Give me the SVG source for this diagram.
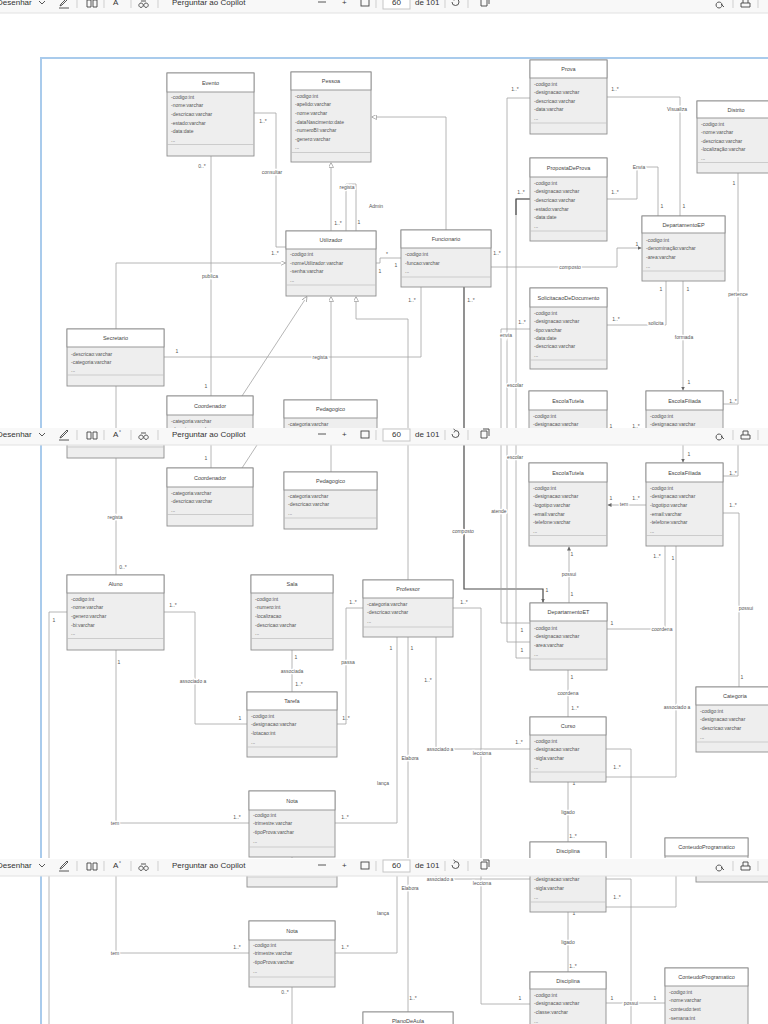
<svg xmlns="http://www.w3.org/2000/svg" xmlns:xlink="http://www.w3.org/1999/xlink" width="768" height="1024" viewBox="0 0 768 1024">
<defs>
<style>
text{font-family:"Liberation Sans",Arial,sans-serif}
.b{fill:#eeeeee;stroke:#8f8f8f;stroke-width:0.9}
.h{fill:#ffffff;stroke:#8f8f8f;stroke-width:0.9}
.d{stroke:#bdbdbd;stroke-width:0.7}
.t{font-size:5.5px;fill:#444;text-anchor:middle}
.a{font-size:5px;fill:#555}
.c path{fill:none;stroke:#a3a3a3;stroke-width:0.8}
.c path.k{stroke:#4a4a4a;stroke-width:1.2}
.l{font-size:5px;fill:#555;text-anchor:middle}
.lb{paint-order:stroke;stroke:#fff;stroke-width:2.5px}
.tb{font-size:8px;fill:#333}
.ti{fill:none;stroke:#444;stroke-width:0.9}
.sep{stroke:#cfcfcf;stroke-width:1}
.frame{stroke:#a9cbec;stroke-width:2;fill:none}
</style>
<marker id="gen" viewBox="0 0 10 10" refX="10" refY="5" markerWidth="5" markerHeight="5" markerUnits="userSpaceOnUse" orient="auto"><path d="M0,0L10,5L0,10z" fill="#fff" stroke="#888" stroke-width="1.2"/></marker>
<marker id="arr" viewBox="0 0 10 10" refX="10" refY="5" markerWidth="4" markerHeight="4" markerUnits="userSpaceOnUse" orient="auto"><path d="M0,0L10,5L0,10z" fill="#666"/></marker>
<clipPath id="c1"><rect x="0" y="13" width="768" height="415"/></clipPath>
<clipPath id="c2"><rect x="0" y="445" width="768" height="413"/></clipPath>
<clipPath id="c3"><rect x="0" y="876" width="768" height="148"/></clipPath>
<g id="tb">
<rect x="0" y="-9" width="768" height="17" fill="#f8f8f8"/>
<line x1="0" y1="8" x2="768" y2="8" stroke="#e2e2e2"/>
<text class="tb" x="-3" y="0">Desenhar</text>
<path class="ti" d="M39,-4l3,3l3,-3"/>
<path class="ti" d="M60,1l2,-1l6,-6l-1,-1l-6,6z M59,3h10"/>
<line class="sep" x1="77" y1="-7" x2="77" y2="3"/>
<path class="ti" d="M87,-5h4v7h-4z M93,-5h4v7h-4z"/>
<line class="sep" x1="104" y1="-7" x2="104" y2="3"/>
<text class="tb" x="113" y="0">A</text><text x="119" y="-3" style="font-size:5px;fill:#333">°</text>
<line class="sep" x1="131" y1="-7" x2="131" y2="3"/>
<path class="ti" d="M141,-2a2.2,2.2 0 1,0 0.1,0 M146,-2a2.2,2.2 0 1,0 0.1,0 M141,-4h5"/>
<line class="sep" x1="158" y1="-7" x2="158" y2="3"/>
<text class="tb" x="172" y="0">Perguntar ao Copilot</text>
<line x1="318" y1="-3" x2="326" y2="-3" stroke="#444" stroke-width="0.9"/>
<text class="tb" x="342" y="0">+</text>
<rect x="361" y="-6" width="8" height="7" class="ti"/>
<line class="sep" x1="376" y1="-7" x2="376" y2="3"/>
<rect x="383" y="-8" width="27" height="12" fill="#fff" stroke="#c6c6c6"/>
<text class="tb" x="396.5" y="0" text-anchor="middle">60</text>
<text class="tb" x="415" y="0">de 101</text>
<line class="sep" x1="445" y1="-7" x2="445" y2="3"/>
<path class="ti" d="M452,-3a3.5,3.5 0 1,0 3.5,-3.5 M455.5,-6.5l-2,-1.5 M455.5,-6.5l-1.5,2"/>
<line class="sep" x1="468" y1="-7" x2="468" y2="3"/>
<path class="ti" d="M481,-6h6v7h-6z M483,-8h6v7"/>
<path class="ti" d="M719,-3a3,3 0 1,0 0.1,0 M721,-1l3,3"/>
<line class="sep" x1="733" y1="-7" x2="733" y2="3"/>
<path class="ti" d="M741,-2h9v4h-9z M743,-2v-4h5v4"/>
<line class="sep" x1="758" y1="-7" x2="758" y2="3"/>
</g>
</defs>
<rect x="0" y="0" width="768" height="1024" fill="#ffffff"/>
<g clip-path="url(#c1)">
<g id="page">
<path class="frame" d="M41,1400V58H768"/>
<g id="connectors" class="c">
<path d="M254,113H276V247H286"/>
<path d="M211,156V396"/>
<path d="M116,329V263H285.5" marker-end="url(#gen)"/>
<path d="M331,231V162.5" marker-end="url(#gen)"/>
<path d="M346,231V184H356V231"/>
<path d="M446,230V117H371.5" marker-end="url(#gen)"/>
<path d="M376,263H380V258H401"/>
<path d="M242,396L307,296.5" marker-end="url(#gen)"/>
<path d="M331,400V296.5" marker-end="url(#gen)"/>
<path d="M408,508V319H356V296.5" marker-end="url(#gen)"/>
<path d="M164,357H421V287"/>
<path d="M491,267H617V248H641.5" marker-end="url(#arr)"/>
<path class="k" d="M464,287V517H543V530.5" marker-end="url(#arr)"/>
<path d="M530,98H507V570H530"/>
<path d="M607,97H680V216"/>
<path d="M530,199H516V586H530"/>
<path class="k" d="M530,199H516V215"/>
<path d="M607,199H637V167H658V216"/>
<path d="M530,329H501V551H530"/>
<path d="M607,325H666V281"/>
<path d="M683,281V390.5" marker-end="url(#arr)"/>
<path d="M738,173V404H723"/>
<path d="M646,433H607.5" marker-end="url(#arr)"/>
<path d="M569,531V474.5" marker-end="url(#arr)"/>
<path d="M665,474V557H607"/>
<path d="M723,441H739V615"/>
<path d="M676,474V705H606"/>
<path d="M606,677H631V860"/>
<path d="M568,598V645"/>
<path d="M568,710V770"/>
<path d="M116,386V503"/>
<path d="M67,540H49V900"/>
<path d="M164,540H195V652H247"/>
<path d="M116,578V751H249"/>
<path d="M292,578V620"/>
<path d="M363,536H346V652H337"/>
<path d="M397,565V751H335"/>
<path d="M408,565V810"/>
<path d="M436,565V677H530"/>
<path d="M453,536H481V802H530"/>
<path d="M292,785V900"/>
<path d="M606,801H665"/>
<g id="labels">
<text class="l" x="263" y="123">1..*</text><text class="l lb" x="272" y="174">consultar</text>
<text class="l" x="202" y="168">0..*</text><text class="l lb" x="210" y="278">publica</text><text class="l" x="206" y="388">1</text>
<text class="l" x="275" y="255">1..*</text>
<text class="l" x="338" y="225">1..*</text><text class="l lb" x="347" y="189">regista</text><text class="l" x="359" y="224">1</text><text class="l" x="376" y="208">Admin</text>
<text class="l" x="387" y="256">*</text><text class="l" x="380" y="273">1</text><text class="l" x="396" y="267">1</text>
<text class="l" x="177" y="353">1</text><text class="l lb" x="320" y="359">regista</text><text class="l" x="412" y="302">1..*</text><text class="l" x="117" y="369">1</text>
<text class="l" x="497" y="255">1..*</text><text class="l lb" x="570" y="269">composto</text><text class="l" x="637" y="246">1</text>
<text class="l" x="471" y="302">1..*</text><text class="l lb" x="463" y="461">composto</text><text class="l" x="547" y="520">1</text>
<text class="l" x="515" y="91">1..*</text>
<text class="l" x="615" y="91">1..*</text><text class="l lb" x="677" y="111">Visualiza</text><text class="l" x="684" y="208">1</text>
<text class="l" x="521" y="194">1..*</text>
<text class="l" x="615" y="194">1..*</text><text class="l lb" x="639" y="169">Envia</text><text class="l" x="662" y="208">1</text>
<text class="l" x="522" y="324">1..*</text><text class="l lb" x="506" y="337">envia</text><text class="l lb" x="515" y="387">escolar</text><text class="l lb" x="499" y="441">atende</text>
<text class="l" x="522" y="560">1</text><text class="l" x="522" y="580">1</text>
<text class="l" x="616" y="321">1..*</text><text class="l lb" x="656" y="325">solicita</text><text class="l" x="661" y="291">1</text>
<text class="l" x="688" y="291">1</text><text class="l lb" x="684" y="339">formada</text><text class="l" x="689" y="384">1</text>
<text class="l" x="734" y="185">1</text><text class="l lb" x="738" y="296">pertence</text><text class="l" x="733" y="403">1..*</text>
<text class="l" x="611" y="428">1</text><text class="l lb" x="624" y="434">tem</text><text class="l" x="636" y="428">1..*</text>
<text class="l" x="572" y="484">1</text><text class="l lb" x="569" y="504">possui</text><text class="l" x="572" y="524">1</text>
<text class="l" x="657" y="486">1..*</text><text class="l lb" x="662" y="559">coordena</text><text class="l" x="612" y="553">1</text>
<text class="l" x="733" y="435">1..*</text><text class="l lb" x="746" y="538">possui</text><text class="l" x="742" y="607">1</text>
<text class="l" x="673" y="488">1</text><text class="l lb" x="677" y="637">associado a</text><text class="l" x="617" y="697">1..*</text>
<text class="l" x="572" y="607">1</text><text class="l lb" x="568" y="623">coordena</text><text class="l" x="575" y="638">1..*</text>
<text class="l" x="574" y="713">1</text><text class="l lb" x="568" y="742">ligado</text><text class="l" x="573" y="766">1..*</text>
<text class="l lb" x="115" y="447">regista</text><text class="l" x="123" y="497">0..*</text>
<text class="l" x="54" y="550">1</text>
<text class="l" x="173" y="535">1..*</text><text class="l lb" x="193" y="611">associado a</text><text class="l" x="240" y="648">1</text>
<text class="l" x="119" y="592">1</text><text class="l lb" x="115" y="753">tem</text><text class="l" x="237" y="747">1..*</text>
<text class="l" x="296" y="587">1</text><text class="l lb" x="292" y="601">associada</text><text class="l" x="299" y="614">1..*</text>
<text class="l" x="353" y="532">1..*</text><text class="l lb" x="348" y="592">passa</text><text class="l" x="346" y="648">1..*</text>
<text class="l" x="391" y="578">1</text><text class="l" x="383" y="713">lança</text><text class="l" x="345" y="747">1..*</text>
<text class="l" x="412" y="578">1</text><text class="l lb" x="410" y="688">Elabora</text><text class="l" x="413" y="798">1..*</text>
<text class="l" x="428" y="610">1..*</text><text class="l lb" x="440" y="679">associado a</text><text class="l" x="519" y="672">1..*</text>
<text class="l" x="464" y="532">1..*</text><text class="l lb" x="482" y="683">lecciona</text><text class="l" x="520" y="798">1</text>
<text class="l" x="285" y="792">0..*</text>
<text class="l" x="612" y="798">1</text><text class="l lb" x="631" y="803">possui</text><text class="l" x="655" y="798">1</text>
</g>
</g>
<g id="n-evento"><rect class="b" x="167" y="73" width="87" height="83"/><rect class="h" x="167" y="73" width="87" height="19"/><text class="t" x="210.5" y="84.5">Evento</text><text class="a" x="171" y="98.8">-codigo:int</text><text class="a" x="171" y="107.4">-nome:varchar</text><text class="a" x="171" y="116">-descricao:varchar</text><text class="a" x="171" y="124.6">-estado:varchar</text><text class="a" x="171" y="133.2">-data:date</text><text class="a" x="171" y="141.6">...</text><line class="d" x1="167" y1="144.5" x2="254" y2="144.5"/></g>
<g id="n-pessoa"><rect class="b" x="291" y="72" width="80" height="90"/><rect class="h" x="291" y="72" width="80" height="18"/><text class="t" x="331" y="83">Pessoa</text><text class="a" x="295" y="97.8">-codigo:int</text><text class="a" x="295" y="106.4">-apelido:varchar</text><text class="a" x="295" y="115">-nome:varchar</text><text class="a" x="295" y="123.6">-dataNascimento:date</text><text class="a" x="295" y="132.2">-numeroBI:varchar</text><text class="a" x="295" y="140.8">-genero:varchar</text><text class="a" x="295" y="149.4">...</text><line class="d" x1="291" y1="152.5" x2="371" y2="152.5"/></g>
<g id="n-prova"><rect class="b" x="530" y="60" width="77" height="74"/><rect class="h" x="530" y="60" width="77" height="18"/><text class="t" x="568.5" y="71">Prova</text><text class="a" x="534" y="85.8">-codigo:int</text><text class="a" x="534" y="94.3">-designacao:varchar</text><text class="a" x="534" y="102.8">-descricao:varchar</text><text class="a" x="534" y="111.3">-data:varchar</text><text class="a" x="534" y="119.8">...</text><line class="d" x1="530" y1="123" x2="607" y2="123"/></g>
<g id="n-distrito"><rect class="b" x="697" y="101" width="78" height="72"/><rect class="h" x="697" y="101" width="78" height="17"/><text class="t" x="736" y="111.5">Distrito</text><text class="a" x="701" y="125.8">-codigo:int</text><text class="a" x="701" y="134.3">-nome:varchar</text><text class="a" x="701" y="142.8">-descricao:varchar</text><text class="a" x="701" y="151.3">-localização:varchar</text><text class="a" x="701" y="159.8">...</text><line class="d" x1="697" y1="162.5" x2="775" y2="162.5"/></g>
<g id="n-propostadeprova"><rect class="b" x="530" y="158" width="77" height="83"/><rect class="h" x="530" y="158" width="77" height="19"/><text class="t" x="568.5" y="169.5">PropostaDeProva</text><text class="a" x="534" y="184.8">-codigo:int</text><text class="a" x="534" y="193.4">-designacao:varchar</text><text class="a" x="534" y="202">-descricao:varchar</text><text class="a" x="534" y="210.6">-estado:varchar</text><text class="a" x="534" y="219.2">-data:date</text><text class="a" x="534" y="227.8">...</text><line class="d" x1="530" y1="231" x2="607" y2="231"/></g>
<g id="n-utilizador"><rect class="b" x="286" y="231" width="90" height="65"/><rect class="h" x="286" y="231" width="90" height="18"/><text class="t" x="331" y="242">Utilizador</text><text class="a" x="290" y="255.8">-codigo:int</text><text class="a" x="290" y="264.5">-nomeUtilizador:varchar</text><text class="a" x="290" y="273.2">-senha:varchar</text><text class="a" x="290" y="281.9">...</text><line class="d" x1="286" y1="285" x2="376" y2="285"/></g>
<g id="n-funcionario"><rect class="b" x="401" y="230" width="90" height="57"/><rect class="h" x="401" y="230" width="90" height="18"/><text class="t" x="446" y="241">Funcionario</text><text class="a" x="405" y="255.8">-codigo:int</text><text class="a" x="405" y="264.5">-funcao:varchar</text><text class="a" x="405" y="273.2">...</text><line class="d" x1="401" y1="277" x2="491" y2="277"/></g>
<g id="n-departamentoep"><rect class="b" x="642" y="216" width="83" height="65"/><rect class="h" x="642" y="216" width="83" height="17"/><text class="t" x="683.5" y="226.5">DepartamentoEP</text><text class="a" x="646" y="241.8">-codigo:int</text><text class="a" x="646" y="250.4">-denominação:varchar</text><text class="a" x="646" y="259">-area:varchar</text><text class="a" x="646" y="267.6">...</text><line class="d" x1="642" y1="271" x2="725" y2="271"/></g>
<g id="n-secretario"><rect class="b" x="67" y="329" width="97" height="57"/><rect class="h" x="67" y="329" width="97" height="18"/><text class="t" x="115.5" y="340">Secretario</text><text class="a" x="71" y="355.5">-descricao:varchar</text><text class="a" x="71" y="363.5">-categoria:varchar</text><text class="a" x="71" y="372">...</text><line class="d" x1="67" y1="375" x2="164" y2="375"/></g>
<g id="n-solicitacaodedocumento"><rect class="b" x="530" y="288" width="77" height="81"/><rect class="h" x="530" y="288" width="77" height="19"/><text class="t" x="568.5" y="299.5">SolicitacaoDeDocumento</text><text class="a" x="534" y="314.8">-codigo:int</text><text class="a" x="534" y="323.2">-designacao:varchar</text><text class="a" x="534" y="331.6">-tipo:varchar</text><text class="a" x="534" y="340">-data:date</text><text class="a" x="534" y="348.4">-descricao:varchar</text><text class="a" x="534" y="356.8">...</text><line class="d" x1="530" y1="360" x2="607" y2="360"/></g>
<g id="n-coordenador"><rect class="b" x="167" y="396" width="86" height="58"/><rect class="h" x="167" y="396" width="86" height="19"/><text class="t" x="210" y="407.5">Coordenador</text><text class="a" x="171" y="422.8">-categoria:varchar</text><text class="a" x="171" y="431.2">-descricao:varchar</text><text class="a" x="171" y="439.8">...</text><line class="d" x1="167" y1="442.5" x2="253" y2="442.5"/></g>
<g id="n-pedagogico"><rect class="b" x="284" y="400" width="93" height="57"/><rect class="h" x="284" y="400" width="93" height="18"/><text class="t" x="330.5" y="411">Pedagogico</text><text class="a" x="288" y="425.8">-categoria:varchar</text><text class="a" x="288" y="434.4">-descricao:varchar</text><text class="a" x="288" y="443">...</text><line class="d" x1="284" y1="446" x2="377" y2="446"/></g>
<g id="n-escolatutela"><rect class="b" x="529" y="391" width="78" height="83"/><rect class="h" x="529" y="391" width="78" height="19"/><text class="t" x="568" y="402.5">EscolaTutela</text><text class="a" x="533" y="417.8">-codigo:int</text><text class="a" x="533" y="426.4">-designacao:varchar</text><text class="a" x="533" y="435">-logotipo:varchar</text><text class="a" x="533" y="443.6">-email:varchar</text><text class="a" x="533" y="452.2">-telefone:varchar</text><text class="a" x="533" y="460.8">...</text><line class="d" x1="529" y1="463.5" x2="607" y2="463.5"/></g>
<g id="n-escolafiliada"><rect class="b" x="646" y="391" width="77" height="83"/><rect class="h" x="646" y="391" width="77" height="19"/><text class="t" x="684.5" y="402.5">EscolaFiliada</text><text class="a" x="650" y="417.8">-codigo:int</text><text class="a" x="650" y="426.4">-designacao:varchar</text><text class="a" x="650" y="435">-logotipo:varchar</text><text class="a" x="650" y="443.6">-email:varchar</text><text class="a" x="650" y="452.2">-telefone:varchar</text><text class="a" x="650" y="460.8">...</text><line class="d" x1="646" y1="463.5" x2="723" y2="463.5"/></g>
<g id="n-aluno"><rect class="b" x="67" y="503" width="97" height="75"/><rect class="h" x="67" y="503" width="97" height="18"/><text class="t" x="115.5" y="514">Aluno</text><text class="a" x="71" y="528.8">-codigo:int</text><text class="a" x="71" y="537.4">-nome:varchar</text><text class="a" x="71" y="546">-genero:varchar</text><text class="a" x="71" y="554.6">-bi:varchar</text><text class="a" x="71" y="563.2">...</text><line class="d" x1="67" y1="566.5" x2="164" y2="566.5"/></g>
<g id="n-sala"><rect class="b" x="251" y="503" width="82" height="75"/><rect class="h" x="251" y="503" width="82" height="18"/><text class="t" x="292" y="514">Sala</text><text class="a" x="255" y="528.8">-codigo:int</text><text class="a" x="255" y="537.4">-numero:int</text><text class="a" x="255" y="546">-localizacao</text><text class="a" x="255" y="554.6">-descricao:varchar</text><text class="a" x="255" y="563.2">...</text><line class="d" x1="251" y1="566.5" x2="333" y2="566.5"/></g>
<g id="n-professor"><rect class="b" x="363" y="508" width="90" height="57"/><rect class="h" x="363" y="508" width="90" height="18"/><text class="t" x="408" y="519">Professor</text><text class="a" x="367" y="533.8">-categoria:varchar</text><text class="a" x="367" y="542.4">-descricao:varchar</text><text class="a" x="367" y="551">...</text><line class="d" x1="363" y1="555" x2="453" y2="555"/></g>
<g id="n-departamentoet"><rect class="b" x="530" y="531" width="77" height="67"/><rect class="h" x="530" y="531" width="77" height="18"/><text class="t" x="568.5" y="542">DepartamentoET</text><text class="a" x="534" y="557.8">-codigo:int</text><text class="a" x="534" y="566.4">-designacao:varchar</text><text class="a" x="534" y="575">-area:varchar</text><text class="a" x="534" y="583.6">...</text><line class="d" x1="530" y1="587" x2="607" y2="587"/></g>
<g id="n-categoria"><rect class="b" x="696" y="615" width="78" height="65"/><rect class="h" x="696" y="615" width="78" height="18"/><text class="t" x="735" y="626">Categoria</text><text class="a" x="700" y="640.8">-codigo:int</text><text class="a" x="700" y="649.4">-designacao:varchar</text><text class="a" x="700" y="658">-descricao:varchar</text><text class="a" x="700" y="666.6">...</text><line class="d" x1="696" y1="670" x2="774" y2="670"/></g>
<g id="n-tarefa"><rect class="b" x="247" y="620" width="90" height="65"/><rect class="h" x="247" y="620" width="90" height="18"/><text class="t" x="292" y="631">Tarefa</text><text class="a" x="251" y="645.8">-codigo:int</text><text class="a" x="251" y="654.4">-designacao:varchar</text><text class="a" x="251" y="663">-lotacao:int</text><text class="a" x="251" y="671.6">...</text><line class="d" x1="247" y1="675" x2="337" y2="675"/></g>
<g id="n-curso"><rect class="b" x="530" y="645" width="76" height="65"/><rect class="h" x="530" y="645" width="76" height="18"/><text class="t" x="568" y="656">Curso</text><text class="a" x="534" y="670.8">-codigo:int</text><text class="a" x="534" y="679.4">-designacao:varchar</text><text class="a" x="534" y="688">-sigla:varchar</text><text class="a" x="534" y="696.6">...</text><line class="d" x1="530" y1="700" x2="606" y2="700"/></g>
<g id="n-nota"><rect class="b" x="249" y="719" width="86" height="66"/><rect class="h" x="249" y="719" width="86" height="19"/><text class="t" x="292" y="730.5">Nota</text><text class="a" x="253" y="744.8">-codigo:int</text><text class="a" x="253" y="753.4">-trimestre:varchar</text><text class="a" x="253" y="762">-tipoProva:varchar</text><text class="a" x="253" y="770.6">...</text><line class="d" x1="249" y1="775" x2="335" y2="775"/></g>
<g id="n-disciplina"><rect class="b" x="530" y="770" width="76" height="66"/><rect class="h" x="530" y="770" width="76" height="17"/><text class="t" x="568" y="780.5">Disciplina</text><text class="a" x="534" y="794.8">-codigo:int</text><text class="a" x="534" y="803.4">-designacao:varchar</text><text class="a" x="534" y="812">-classe:varchar</text><text class="a" x="534" y="820.6">...</text><line class="d" x1="530" y1="825" x2="606" y2="825"/></g>
<g id="n-conteudoprogramatico"><rect class="b" x="665" y="766" width="83" height="74"/><rect class="h" x="665" y="766" width="83" height="18"/><text class="t" x="706.5" y="777">ConteudoProgramatico</text><text class="a" x="669" y="791.8">-codigo:int</text><text class="a" x="669" y="800.4">-nome:varchar</text><text class="a" x="669" y="809">-conteudo:text</text><text class="a" x="669" y="817.6">-semana:int</text><text class="a" x="669" y="826.2">...</text><line class="d" x1="665" y1="829" x2="748" y2="829"/></g>
<g id="n-planodeaula"><rect class="b" x="363" y="810" width="90" height="60"/><rect class="h" x="363" y="810" width="90" height="18"/><text class="t" x="408" y="821">PlanoDeAula</text></g>
</g>
</g>
<g clip-path="url(#c2)"><use xlink:href="#page" transform="translate(0,72)"/></g>
<g clip-path="url(#c3)"><use xlink:href="#page" transform="translate(0,202)"/></g>
<use xlink:href="#tb" transform="translate(0,5)"/>
<use xlink:href="#tb" transform="translate(0,437)"/>
<use xlink:href="#tb" transform="translate(0,868)"/>
</svg>
